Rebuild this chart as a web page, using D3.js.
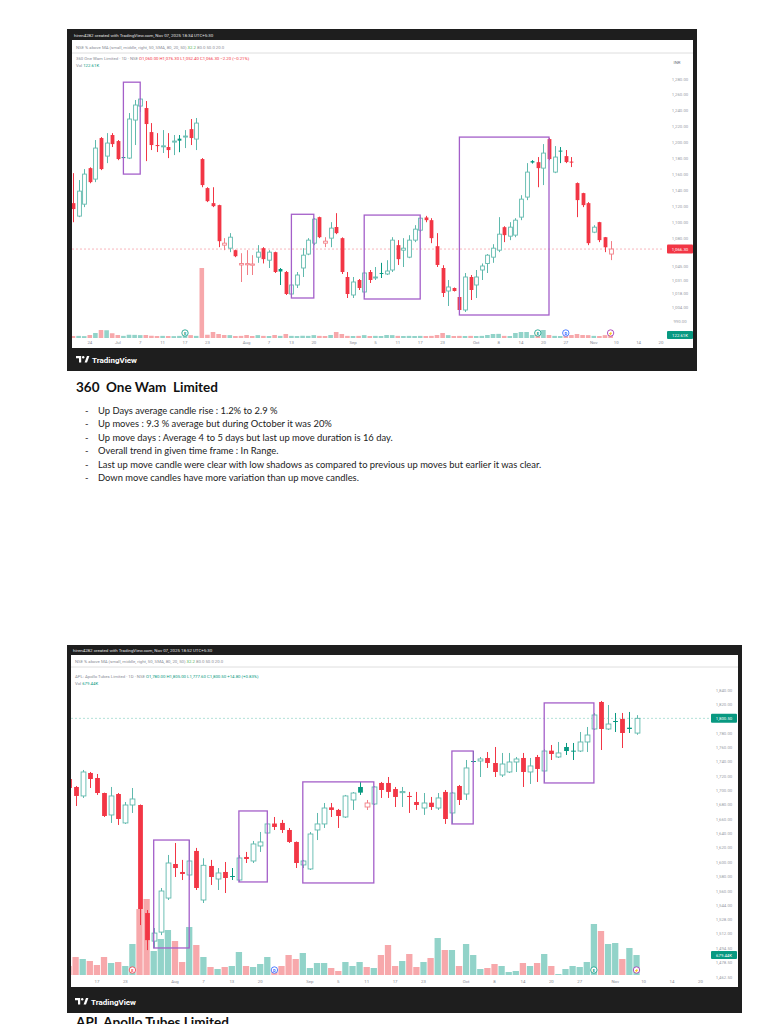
<!DOCTYPE html>
<html><head><meta charset="utf-8">
<script src="https://cdn.jsdelivr.net/npm/d3@7"></script>
<style>body{margin:0;background:#fff}svg{display:block}</style>
</head><body>
<svg id="c" width="768" height="1024"></svg>
<script>
// ---------- DATA ----------
const tradingDays = ["Jun 19","Jun 20","Jun 23","Jun 24","Jun 25","Jun 26","Jun 27","Jun 30",
"Jul 1","Jul 2","Jul 3","Jul 4","Jul 7","Jul 8","Jul 9","Jul 10","Jul 11","Jul 14","Jul 15","Jul 16","Jul 17","Jul 18","Jul 21","Jul 22","Jul 23","Jul 24","Jul 25","Jul 28","Jul 29","Jul 30","Jul 31",
"Aug 1","Aug 4","Aug 5","Aug 6","Aug 7","Aug 8","Aug 11","Aug 12","Aug 13","Aug 14","Aug 18","Aug 19","Aug 20","Aug 21","Aug 22","Aug 25","Aug 26","Aug 28","Aug 29",
"Sep 1","Sep 2","Sep 3","Sep 4","Sep 5","Sep 8","Sep 9","Sep 10","Sep 11","Sep 12","Sep 15","Sep 16","Sep 17","Sep 18","Sep 19","Sep 22","Sep 23","Sep 24","Sep 25","Sep 26","Sep 29","Sep 30",
"Oct 1","Oct 3","Oct 6","Oct 7","Oct 8","Oct 9","Oct 10","Oct 13","Oct 14","Oct 15","Oct 16","Oct 17","Oct 20","Oct 21","Oct 23","Oct 24","Oct 27","Oct 28","Oct 29","Oct 30","Oct 31",
"Nov 3","Nov 4","Nov 6","Nov 7","Nov 10","Nov 11","Nov 12","Nov 13","Nov 14","Nov 17","Nov 18","Nov 19","Nov 20","Nov 21"];

// 360 One Wam Limited (Jun 19 - Nov 7)
const oneDates = tradingDays.slice(0, 97);
const oneOpen = [1124,1107.7,1122.7,1168,1154.2,1205.8,1183.1,1209.6,1202,1181.9,
1180.6,1228.4,1246,1243.5,1213.3,1197,1195,1194.5,1200.7,1205,
1207.7,1217,1204.5,1179.4,1142.9,1124,1121.5,1071.2,1067.4,1064.9,
1046.3,1046.5,1046,1056.1,1067.4,1052.3,1062.4,1042,1039,1017,
1026,1043,1060,1073.7,1106.4,1073.7,1080,1094,1080,1034,
1016,1031,1019,1039,1033,1038,1037,1041,1071.2,1064.9,
1056.1,1077.5,1090,1106,1102.6,1069.9,1043,1020,1023,1014,
1001,1034,1026,1041,1048.2,1056.1,1064.9,1093.8,1082.5,1083.8,
1106.4,1131.6,1176.8,1175.5,1168,1204.5,1163,1190,1183.1,1176.2,
1149.2,1136.6,1124,1087.5,1100.1,1081.2,1060];
const oneHigh = [1161.7,1153,1166.8,1169,1203.3,1207,1212,1212,1203.3,1183,
1237.2,1253.6,1256,1252.3,1224.6,1212,1215.8,1212,1209.6,1209.6,
1215.8,1229.7,1231,1180.6,1144,1144,1122,1080,1086.3,1065.5,
1061.1,1064.9,1058.6,1071.2,1068.7,1064.9,1063,1043,1040,1031,
1039,1067.4,1080,1105.1,1107,1081.2,1100.1,1111.4,1081,1039,
1034,1032,1039,1041,1044,1049,1052.3,1081.2,1077.5,1080,
1083.7,1096.3,1106.4,1108,1105.1,1086.3,1046,1031,1023.5,1016,
1038,1036,1041,1048.2,1060,1072.4,1106.4,1095,1100.1,1105.1,
1134,1174.3,1178,1181.9,1198.2,1205.8,1195.7,1194.5,1190.7,1181.9,
1150,1137,1125.3,1096.3,1100.5,1081.5,1076.3];
const oneLow = [1100,1106.4,1119,1149,1150.4,1165.5,1174.3,1194.5,1178,1179,
1179.4,1197,1238.5,1176.8,1190.7,1188.2,1187,1180.6,1184.4,1188,
1193.2,1197,1190.7,1144,1125.3,1119,1068.7,1064.9,1062.4,1056.1,
1029,1036,1036,1049,1048.2,1043,1038,1026,1016,1014,
1023,1034,1058.6,1071.2,1080,1068.7,1068.7,1085,1037,1013,
1013,1021,1014,1028,1031,1033,1036,1039,1046.3,1044,
1054.8,1075,1087.5,1100,1073.7,1044,1014,1005,1019.5,999,
999,1011,1013,1031,1038,1049,1062.4,1075,1077.5,1081.2,
1102.6,1127.8,1173.7,1144,1146.7,1178,1161.7,1174.3,1174.3,1169.3,
1106.4,1119,1071.2,1086.3,1075,1062.4,1052.4];
const oneClose = [1116.5,1139.1,1160.5,1150.4,1193.2,1166.8,1199.5,1198.2,1179.4,1180.6,
1229.7,1247.3,1254.8,1223.4,1197,1195.7,1196,1190.7,1202,1202.5,
1208.3,1205.8,1224.6,1146.7,1126.5,1120.2,1076.2,1073.7,1081.2,1057.3,
1048.2,1048,1047.5,1062.4,1053.6,1062.4,1039,1039.5,1017,1026,
1036,1058.6,1077.5,1103.9,1081.2,1076.2,1092.6,1086.3,1039,1017,
1029,1023,1038,1031,1034,1037,1040,1077.5,1053.6,1067.4,
1077.5,1091.3,1105.1,1102.6,1080,1046.3,1018,1024,1020,1001,
1034,1021,1034,1045,1058.6,1067.4,1085,1083.8,1093.8,1102.6,
1129,1163,1175,1168,1186.9,1179.4,1181.9,1188.8,1175.6,1175,
1127.8,1121.5,1073.7,1093.8,1077.5,1068.5,1066.3];
const oneVolume = [80,85,75,120,200,320,310,190,120,85,
130,125,115,120,90,80,85,80,75,85,
90,115,85,2800,130,240,160,120,115,80,
85,120,80,115,85,80,120,85,160,85,
80,90,85,115,85,80,120,240,160,85,
80,85,115,80,85,80,120,115,85,80,
85,80,85,80,85,120,200,115,80,85,
80,85,80,85,120,160,165,85,80,200,
240,240,120,280,320,120,85,80,115,120,
160,120,115,85,80,115,122.61];
const oneTickDates = ["Jun 24","Jul 1","Jul 7","Jul 11","Jul 17","Jul 23","Aug 1","Aug 7","Aug 13","Aug 20","Sep 1","Sep 5","Sep 11","Sep 17","Sep 23","Oct 1","Oct 8","Oct 14","Oct 20","Oct 27","Nov 3","Nov 10","Nov 14","Nov 20"];
const oneTickLabels = ["24","Jul","7","11","17","23","Aug","7","13","20","Sep","5","11","17","23","Oct","8","14","20","27","Nov","10","14","20"];
const onePriceTicks = [1280,1260,1240,1220,1200,1180,1160,1140,1120,1100,1080,1045,1031,1018,1004,990];
const oneBoxStart = ["Jul 2","Aug 13","Sep 3","Sep 26"];
const oneBoxEnd = ["Jul 7","Aug 20","Sep 17","Oct 21"];
const oneBoxHigh = [1276,1110,1109,1207];
const oneBoxLow = [1160.5,1013,1012,996];
const oneEventDates = ["Jul 17","Oct 17","Oct 27","Nov 7"];
const oneEventTypes = ["E","E","D","\u26A1"];
const oneEventColors = ["#089981","#089981","#2962ff","#9c27b0"];

// APL Apollo Tubes Limited (Jul 11 - Nov 7)
const aplDates = tradingDays.slice(16, 97);
const aplOpen = [1716,1704.9,1692.4,1724.4,1717.4,1696.5,1665.9,1695.1,1654.8,1679.8,
1679.8,1535,1503.2,1513.4,1552,1597.6,1586.5,1582.3,1615.8,1549.8,
1594.9,1576.7,1586.5,1580.9,1575.3,1607.4,1601.8,1622.7,1640.8,1654,
1654.8,1645,1628.3,1596.3,1590.7,1645,1653.4,1676.5,1672.9,1663.1,
1686.8,1704.9,1677,1681.2,1710.5,1710.5,1702,1697,1692.4,1684,
1675.6,1683,1675.6,1698,1668.7,1706.3,1695.1,1741.1,1741.1,1745.3,
1738.3,1721.6,1725.8,1739.7,1745.3,1725.8,1746.7,1727.2,1755.5,1746.7,
1760.6,1755.5,1755,1767.6,1785.7,1823.3,1785.7,1796.8,1799.6,1787.5,1780];
const aplHigh = [1717.4,1706.3,1728.6,1725.8,1723,1697,1704.9,1696.5,1684,1703.5,
1680.5,1538.4,1518,1564.2,1610.2,1626.9,1603.3,1631,1620,1605.6,
1603.3,1592,1600.4,1592,1610,1614.4,1629.7,1642.2,1654.8,1663.1,
1659,1647.8,1629,1603.3,1642.2,1668.7,1682.6,1682.6,1674.3,1693.8,
1697.9,1711.9,1686.8,1706.3,1711.9,1718.8,1704.9,1704.9,1698,1698,
1696.5,1691,1696.5,1700.7,1698,1707.7,1742.5,1755,1746.7,1753.6,
1760.6,1752.3,1752.3,1746.7,1752.3,1745.3,1749.5,1757.8,1763.4,1767.6,
1766.2,1766.2,1781.5,1788.5,1808,1824.7,1819.1,1808,1808,1809.4,1805];
const aplLow = [1700.7,1678.4,1689.6,1703.5,1693.8,1663.1,1654.8,1652,1653.4,1668.7,
1521.4,1493,1495.2,1510,1549.8,1579.5,1575.3,1575.3,1561.4,1546.4,
1568.4,1561.4,1557.7,1575.3,1572.6,1599,1599,1614.4,1639.4,1645,
1640.8,1626.9,1592,1592,1589.3,1631,1647.8,1663.1,1647.8,1661.7,
1672.9,1693.8,1672.9,1679.8,1689.6,1689.6,1677,1677,1668.7,1672.9,
1666,1672.9,1672.9,1653.4,1653.4,1679.8,1686.8,1738.3,1718.8,1731.4,
1718.8,1718.8,1724.4,1725.8,1704.9,1709.1,1711.9,1711.9,1742.5,1745.3,
1749.5,1742.5,1753.6,1753.6,1784.3,1756.4,1784.3,1781.5,1759.2,1780.1,1777.6];
const aplClose = [1703.5,1692.4,1725.8,1716,1696.5,1664.5,1692.4,1660.3,1679.8,1688.2,
1539.6,1504.3,1512.3,1560,1599,1592,1583.7,1601.8,1564.2,1595.8,
1579.5,1585.1,1578.1,1579.5,1606,1604.6,1625.5,1628.3,1653.4,1649.2,
1645,1628.3,1599,1601.8,1639.4,1653.4,1675.6,1672.9,1664.5,1692.4,
1696.5,1697,1682.6,1704.9,1700.7,1698,1691,1698.5,1691,1679.8,
1682.6,1677,1689.6,1660.3,1696.5,1686.8,1731.4,1739.7,1743.9,1738.3,
1725.8,1736.9,1739.7,1743.9,1725.8,1734.2,1730,1755,1750.9,1752.3,
1755,1755,1767.6,1777.3,1805.2,1785.7,1792.6,1795.4,1780.1,1785.7,1800.5];
const aplVolume = [306,612,544,476,340,612,408,442,306,1054,
2244,2584,816,1224,1530,1156,442,1632,1020,612,
272,204,272,306,782,306,272,374,612,170,
306,680,544,748,238,408,408,238,136,442,
306,442,272,238,680,1020,306,476,714,272,
442,578,1258,850,850,306,1054,680,204,238,
374,306,102,136,408,306,408,714,306,34,
204,306,272,442,1734,1496,1054,1088,544,918,679.44];
const aplTickDates = ["Jul 11","Jul 17","Jul 23","Aug 1","Aug 7","Aug 13","Aug 20","Sep 1","Sep 5","Sep 11","Sep 17","Sep 23","Oct 1","Oct 8","Oct 14","Oct 20","Oct 27","Nov 3","Nov 10","Nov 14","Nov 20"];
const aplTickLabels = ["11","17","23","Aug","7","13","20","Sep","5","11","17","23","Oct","8","14","20","27","Nov","10","14","20"];
const aplPriceTicks = [1840,1820,1780,1760,1740,1720,1700,1680,1660,1640,1620,1600,1580,1560,1544,1528,1512,1494.5,1478.5,1462.5];
const aplBoxStart = ["Jul 29","Aug 14","Aug 29","Sep 29","Oct 17"];
const aplBoxEnd = ["Aug 5","Aug 21","Sep 12","Oct 3","Oct 29"];
const aplBoxHigh = [1631,1671.5,1712,1755,1822];
const aplBoxLow = [1495.4,1572.6,1571.2,1653.4,1710.5];
const aplEventDates = ["Jul 24","Aug 22","Oct 29","Nov 7"];
const aplEventTypes = ["E","D","E","\u26A1"];
const aplEventColors = ["#f23645","#2962ff","#089981","#9c27b0"];

const oneTitle = "360  One Wam  Limited";
const oneNotes = [
"Up Days average candle rise : 1.2% to 2.9 %",
"Up moves : 9.3 % average but during October it was 20%",
"Up move days : Average 4 to 5 days but last up move duration is 16 day.",
"Overall trend in given time frame : In Range.",
"Last up move candle were clear with low shadows as compared to previous up moves but earlier it was clear.",
"Down move candles have more variation than up move candles."];
const aplTitle = "APL Apollo Tubes Limited";

// ---------- DRAW ----------
const svg = d3.select("#c");
const fmt = d3.format(",.2f");
const TVF = "Roboto, 'Liberation Sans', sans-serif";
const GREEN = "#089981", RED = "#f23645";

function drawChart(c) {
  const g = svg.append("g");
  g.append("rect").attr("x", c.fx0).attr("y", c.fy0).attr("width", c.fx1 - c.fx0).attr("height", c.fy1 - c.fy0).attr("fill", "#1e1e1e");
  g.append("rect").attr("x", c.ix0).attr("y", c.iy0).attr("width", c.ix1 - c.ix0).attr("height", c.iy1 - c.iy0).attr("fill", "#ffffff");
  g.append("text").attr("x", c.ix0 + 2).attr("y", c.headY).attr("font-family", TVF).attr("font-size", 4.4)
    .attr("fill", "#e0e0e0").text(c.header);
  const r1 = g.append("text").attr("x", c.ix0 + 4).attr("y", c.row1Y).attr("font-family", TVF).attr("font-size", 4.3).attr("fill", "#8a8d96");
  r1.append("tspan").text("NSE % above MA (small, middle, right, 50, SMA, 80, 20, 50) ");
  r1.append("tspan").attr("fill", "#4caf50").text("32.2 ");
  r1.append("tspan").text(" 80.0  50.0  20.0");
  g.append("line").attr("x1", c.ix0).attr("x2", c.ix1).attr("y1", c.sepY).attr("y2", c.sepY).attr("stroke", "#d6d6d6").attr("stroke-width", 0.8);
  const r2 = g.append("text").attr("x", c.ix0 + 4).attr("y", c.row2Y).attr("font-family", TVF).attr("font-size", 4.3).attr("fill", "#8a8d96");
  r2.append("tspan").text(c.symbol + "  ");
  r2.append("tspan").attr("fill", c.ohlcColor).text(c.ohlc);
  const r3 = g.append("text").attr("x", c.ix0 + 4).attr("y", c.row3Y).attr("font-family", TVF).attr("font-size", 4.3).attr("fill", "#8a8d96");
  r3.append("tspan").text("Vol  ");
  r3.append("tspan").attr("fill", GREEN).text(c.volText);

  const x = d3.scalePoint().domain(tradingDays).range([c.x0, c.x1]);
  const y = d3.scaleLinear().domain(c.yDomain).range(c.yRange);
  const vy = d3.scaleLinear().domain([0, c.volMax]).range([c.volBase, c.volBase - c.volPx]);

  const clipId = "clip" + c.id;
  const defs = svg.append("defs");
  defs.append("clipPath").attr("id", clipId).append("rect")
    .attr("x", c.ix0).attr("y", c.sepY + 1).attr("width", c.plotRight - c.ix0).attr("height", c.volBase - c.sepY);
  defs.append("clipPath").attr("id", clipId + "x").append("rect")
    .attr("x", c.ix0).attr("y", c.timeY - 8).attr("width", c.ix1 - c.ix0 - 2).attr("height", 12);
  const p = g.append("g").attr("clip-path", `url(#${clipId})`);

  c.dates.forEach((d, i) => {
    const prev = i > 0 ? c.C[i - 1] : c.O[i];
    const up = c.C[i] >= prev;
    const xc = x(d);
    p.append("rect").attr("x", xc - c.vw / 2).attr("width", c.vw)
      .attr("y", vy(c.V[i])).attr("height", c.volBase - vy(c.V[i]))
      .attr("fill", up ? "#92d3c9" : "#f7a8ab");
  });
  const lastC = c.C[c.C.length - 1];
  p.append("line").attr("x1", c.ix0).attr("x2", c.plotRight).attr("y1", y(lastC)).attr("y2", y(lastC))
    .attr("stroke", c.lineColor).attr("stroke-width", 0.8).attr("stroke-dasharray", "2,2");
  c.dates.forEach((d, i) => {
    const o = c.O[i], cl = c.C[i], h = c.H[i], l = c.L[i];
    const prev = i > 0 ? c.C[i - 1] : o;
    const up = cl >= prev, hollow = cl > o;
    const col = up ? (hollow ? "#5fb9ad" : GREEN) : (hollow ? "#f27e86" : RED);
    const xc = Math.round(x(d)) + 0.5;
    const top = y(Math.max(o, cl)), bot = y(Math.min(o, cl));
    const hgt = Math.max(1, bot - top);
    if (hollow) {
      p.append("line").attr("x1", xc).attr("x2", xc).attr("y1", y(h)).attr("y2", top).attr("stroke", col).attr("stroke-width", 1);
      p.append("line").attr("x1", xc).attr("x2", xc).attr("y1", top + hgt).attr("y2", y(l)).attr("stroke", col).attr("stroke-width", 1);
      p.append("rect").attr("x", xc - c.bw / 2).attr("y", top).attr("width", c.bw).attr("height", hgt)
        .attr("fill", "#fff").attr("stroke", col).attr("stroke-width", 0.9);
    } else {
      p.append("line").attr("x1", xc).attr("x2", xc).attr("y1", y(h)).attr("y2", y(l)).attr("stroke", col).attr("stroke-width", 1);
      p.append("rect").attr("x", xc - c.bw / 2).attr("y", top).attr("width", c.bw).attr("height", hgt).attr("fill", col);
    }
  });
  c.boxStart.forEach((s, i) => {
    const x0 = x(s), x1 = x(c.boxEnd[i]);
    g.append("rect").attr("x", x0).attr("y", y(c.boxHigh[i])).attr("width", x1 - x0).attr("height", y(c.boxLow[i]) - y(c.boxHigh[i]))
      .attr("fill", "none").attr("stroke", "#a45fc9").attr("stroke-width", 1.3);
  });
  c.eventDates.forEach((d, i) => {
    const ex = x(d);
    g.append("circle").attr("cx", ex).attr("cy", c.eventY).attr("r", 3.2).attr("fill", "#fff").attr("stroke", c.eventColors[i]).attr("stroke-width", 0.8);
    g.append("text").attr("x", ex).attr("y", c.eventY + 1.5).attr("text-anchor", "middle").attr("font-family", TVF)
      .attr("font-size", 4).attr("font-weight", "bold").attr("fill", c.eventColors[i]).text(c.eventTypes[i]);
  });
  c.priceTicks.forEach(t => {
    g.append("text").attr("x", c.axisX).attr("y", y(t)).attr("dy", "0.35em").attr("text-anchor", "middle")
      .attr("font-family", TVF).attr("font-size", 4.3).attr("fill", "#9a9da6").text(fmt(t));
  });
  if (c.inr) g.append("text").attr("x", c.axisX - 3).attr("y", c.inrY).attr("text-anchor", "middle").attr("font-family", TVF)
      .attr("font-size", 4.3).attr("fill", "#6a6d76").text("INR");
  g.append("rect").attr("x", c.axisX - 13).attr("y", y(lastC) - 4.5).attr("width", 26).attr("height", 9).attr("rx", 1).attr("fill", c.tagColor);
  g.append("text").attr("x", c.axisX).attr("y", y(lastC)).attr("dy", "0.35em").attr("text-anchor", "middle").attr("font-family", TVF)
    .attr("font-size", 4.3).attr("fill", "#fff").text(fmt(lastC));
  g.append("rect").attr("x", c.axisX - 13).attr("y", c.volTagY - 4).attr("width", 26).attr("height", 8).attr("rx", 1).attr("fill", GREEN);
  g.append("text").attr("x", c.axisX).attr("y", c.volTagY).attr("dy", "0.35em").attr("text-anchor", "middle").attr("font-family", TVF)
    .attr("font-size", 4.3).attr("fill", "#fff").text(c.volText);
  const ax = g.append("g").attr("clip-path", `url(#${clipId}x)`);
  c.tickDates.forEach((d, i) => {
    ax.append("text").attr("x", x(d)).attr("y", c.timeY).attr("text-anchor", "middle").attr("font-family", TVF)
      .attr("font-size", 4.3).attr("fill", "#8a8d96").text(c.tickLabels[i]);
  });
  const lx = c.ix0 + 4, ly = c.logoY;
  g.append("path").attr("d", `M${lx},${ly - 5}h5.2v6.5h-2.2v-4.3h-3z`).attr("fill", "#fff");
  g.append("circle").attr("cx", lx + 7.2).attr("cy", ly - 3.8).attr("r", 1.2).attr("fill", "#fff");
  g.append("path").attr("d", `M${lx + 8.6},${ly + 1.5}L${lx + 11},${ly - 5}h2.4L${lx + 11},${ly + 1.5}z`).attr("fill", "#fff");
  g.append("text").attr("x", lx + 16).attr("y", ly + 1.5).attr("font-family", TVF).attr("font-size", 8)
    .attr("font-weight", "bold").attr("fill", "#fff").text("TradingView");
}

drawChart({
  id: "one", fx0: 67, fx1: 697, fy0: 29, fy1: 371, ix0: 72, ix1: 693, iy0: 40, iy1: 348,
  header: "hiren4282 created with TradingView.com, Nov 07, 2025 18:34 UTC+5:30", headY: 36.5,
  row1Y: 48.5, sepY: 53, row2Y: 60, row3Y: 66.5,
  symbol: "360 One Wam Limited \u00b7 1D \u00b7 NSE",
  ohlc: "O1,060.00  H1,076.30  L1,052.40  C1,066.30  \u22122.20 (\u22120.21%)", ohlcColor: RED, volText: "122.61K",
  dates: oneDates, O: oneOpen, H: oneHigh, L: oneLow, C: oneClose, V: oneVolume,
  x0: 73, x1: 73 + 106 * 5.6, yDomain: [990, 1045, 1280], yRange: [321, 266, 79],
  volMax: 4000, volBase: 338, volPx: 100, vw: 4.6, bw: 3.8, plotRight: 664,
  lineColor: "#f5a3a9", tagColor: RED, axisX: 680, inr: true, inrY: 64, volTagY: 335,
  boxStart: oneBoxStart, boxEnd: oneBoxEnd, boxHigh: oneBoxHigh, boxLow: oneBoxLow,
  eventDates: oneEventDates, eventTypes: oneEventTypes, eventColors: oneEventColors, eventY: 333,
  priceTicks: onePriceTicks, tickDates: oneTickDates, tickLabels: oneTickLabels, timeY: 343.5, logoY: 361
});

drawChart({
  id: "apl", fx0: 67, fx1: 742, fy0: 645, fy1: 1013, ix0: 71, ix1: 738, iy0: 655, iy1: 987,
  header: "hiren4282 created with TradingView.com, Nov 07, 2025 18:52 UTC+5:30", headY: 651.5,
  row1Y: 662.5, sepY: 667, row2Y: 678, row3Y: 685,
  symbol: "APL: Apollo Tubes Limited \u00b7 1D \u00b7 NSE",
  ohlc: "O1,780.00  H1,805.00  L1,777.60  C1,800.50  +14.80 (+0.83%)", ohlcColor: GREEN, volText: "679.44K",
  dates: aplDates, O: aplOpen, H: aplHigh, L: aplLow, C: aplClose, V: aplVolume,
  x0: 175 - 31 * 7.1, x1: 175 + 75 * 7.1, yDomain: [1462.5, 1560, 1840], yRange: [977, 891, 690],
  volMax: 3400, volBase: 975, volPx: 100, vw: 6.3, bw: 4.8, plotRight: 709,
  lineColor: "#9fd9cf", tagColor: GREEN, axisX: 724, inr: false, inrY: 0, volTagY: 955,
  boxStart: aplBoxStart, boxEnd: aplBoxEnd, boxHigh: aplBoxHigh, boxLow: aplBoxLow,
  eventDates: aplEventDates, eventTypes: aplEventTypes, eventColors: aplEventColors, eventY: 970,
  priceTicks: aplPriceTicks, tickDates: aplTickDates, tickLabels: aplTickLabels, timeY: 983, logoY: 1003
});

// ---------- document text ----------
const BF = "Lato, 'Open Sans', sans-serif";
svg.append("text").attr("x", 76).attr("y", 392).attr("font-family", BF).attr("font-weight", "bold")
  .attr("font-size", 13.5).attr("fill", "#111").style("white-space", "pre").text(oneTitle);
oneNotes.forEach((t, i) => {
  const yy = 414 + i * 13.4;
  svg.append("text").attr("x", 85).attr("y", yy).attr("font-family", BF).attr("font-size", 9.4).attr("fill", "#222").text("-");
  svg.append("text").attr("x", 98).attr("y", yy).attr("font-family", BF).attr("font-size", 9.4).attr("fill", "#222").text(t);
});
svg.append("text").attr("x", 76).attr("y", 1027).attr("font-family", BF).attr("font-weight", "bold")
  .attr("font-size", 13.5).attr("fill", "#111").text(aplTitle);
</script>
</body></html>
